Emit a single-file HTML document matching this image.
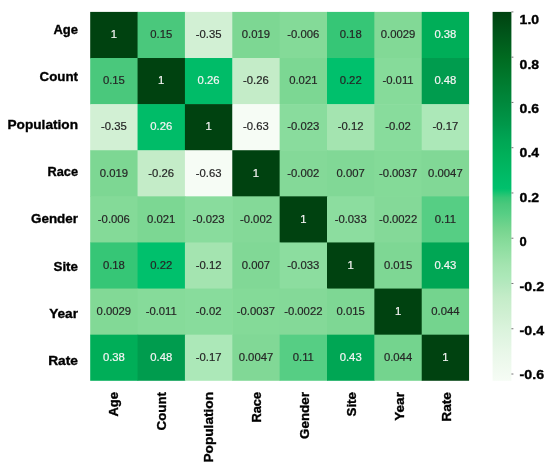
<!DOCTYPE html><html><head><meta charset="utf-8"><style>html,body{margin:0;padding:0;background:#fff;}svg{display:block;}</style></head><body>
<svg width="550" height="470" viewBox="0 0 550 470">
<rect width="550" height="470" fill="#fff"/>
<rect x="90.20" y="11.90" width="47.96" height="46.71" fill="#004210"/>
<rect x="137.56" y="11.90" width="47.96" height="46.71" fill="#4ac87c"/>
<rect x="184.92" y="11.90" width="47.96" height="46.71" fill="#d2f0d4"/>
<rect x="232.28" y="11.90" width="47.96" height="46.71" fill="#7dd793"/>
<rect x="279.64" y="11.90" width="47.96" height="46.71" fill="#84da98"/>
<rect x="327.00" y="11.90" width="47.96" height="46.71" fill="#36c676"/>
<rect x="374.36" y="11.90" width="47.96" height="46.71" fill="#82d996"/>
<rect x="421.72" y="11.90" width="47.36" height="46.71" fill="#00ae58"/>
<rect x="90.20" y="58.01" width="47.96" height="46.71" fill="#4ac87c"/>
<rect x="137.56" y="58.01" width="47.96" height="46.71" fill="#004210"/>
<rect x="184.92" y="58.01" width="47.96" height="46.71" fill="#00bc68"/>
<rect x="232.28" y="58.01" width="47.96" height="46.71" fill="#c4ecc8"/>
<rect x="279.64" y="58.01" width="47.96" height="46.71" fill="#7cd793"/>
<rect x="327.00" y="58.01" width="47.96" height="46.71" fill="#00c06c"/>
<rect x="374.36" y="58.01" width="47.96" height="46.71" fill="#86db9a"/>
<rect x="421.72" y="58.01" width="47.36" height="46.71" fill="#009c4e"/>
<rect x="90.20" y="104.12" width="47.96" height="46.71" fill="#d2f0d4"/>
<rect x="137.56" y="104.12" width="47.96" height="46.71" fill="#00bc68"/>
<rect x="184.92" y="104.12" width="47.96" height="46.71" fill="#004210"/>
<rect x="232.28" y="104.12" width="47.96" height="46.71" fill="#f6fcf5"/>
<rect x="279.64" y="104.12" width="47.96" height="46.71" fill="#89dc9d"/>
<rect x="327.00" y="104.12" width="47.96" height="46.71" fill="#a4e4b0"/>
<rect x="374.36" y="104.12" width="47.96" height="46.71" fill="#88dc9c"/>
<rect x="421.72" y="104.12" width="47.36" height="46.71" fill="#ace8b8"/>
<rect x="90.20" y="150.23" width="47.96" height="46.71" fill="#7dd793"/>
<rect x="137.56" y="150.23" width="47.96" height="46.71" fill="#c4ecc8"/>
<rect x="184.92" y="150.23" width="47.96" height="46.71" fill="#f6fcf5"/>
<rect x="232.28" y="150.23" width="47.96" height="46.71" fill="#004210"/>
<rect x="279.64" y="150.23" width="47.96" height="46.71" fill="#84d998"/>
<rect x="327.00" y="150.23" width="47.96" height="46.71" fill="#81d896"/>
<rect x="374.36" y="150.23" width="47.96" height="46.71" fill="#84da98"/>
<rect x="421.72" y="150.23" width="47.36" height="46.71" fill="#81d896"/>
<rect x="90.20" y="196.34" width="47.96" height="46.71" fill="#84da98"/>
<rect x="137.56" y="196.34" width="47.96" height="46.71" fill="#7cd793"/>
<rect x="184.92" y="196.34" width="47.96" height="46.71" fill="#89dc9d"/>
<rect x="232.28" y="196.34" width="47.96" height="46.71" fill="#84d998"/>
<rect x="279.64" y="196.34" width="47.96" height="46.71" fill="#004210"/>
<rect x="327.00" y="196.34" width="47.96" height="46.71" fill="#8cdd9f"/>
<rect x="374.36" y="196.34" width="47.96" height="46.71" fill="#84d998"/>
<rect x="421.72" y="196.34" width="47.36" height="46.71" fill="#56ce84"/>
<rect x="90.20" y="242.45" width="47.96" height="46.71" fill="#36c676"/>
<rect x="137.56" y="242.45" width="47.96" height="46.71" fill="#00c06c"/>
<rect x="184.92" y="242.45" width="47.96" height="46.71" fill="#a4e4b0"/>
<rect x="232.28" y="242.45" width="47.96" height="46.71" fill="#81d896"/>
<rect x="279.64" y="242.45" width="47.96" height="46.71" fill="#8cdd9f"/>
<rect x="327.00" y="242.45" width="47.96" height="46.71" fill="#004210"/>
<rect x="374.36" y="242.45" width="47.96" height="46.71" fill="#7ed794"/>
<rect x="421.72" y="242.45" width="47.36" height="46.71" fill="#00a654"/>
<rect x="90.20" y="288.56" width="47.96" height="46.71" fill="#82d996"/>
<rect x="137.56" y="288.56" width="47.96" height="46.71" fill="#86db9a"/>
<rect x="184.92" y="288.56" width="47.96" height="46.71" fill="#88dc9c"/>
<rect x="232.28" y="288.56" width="47.96" height="46.71" fill="#84da98"/>
<rect x="279.64" y="288.56" width="47.96" height="46.71" fill="#84d998"/>
<rect x="327.00" y="288.56" width="47.96" height="46.71" fill="#7ed794"/>
<rect x="374.36" y="288.56" width="47.96" height="46.71" fill="#004210"/>
<rect x="421.72" y="288.56" width="47.36" height="46.71" fill="#74d48e"/>
<rect x="90.20" y="334.67" width="47.96" height="46.11" fill="#00ae58"/>
<rect x="137.56" y="334.67" width="47.96" height="46.11" fill="#009c4e"/>
<rect x="184.92" y="334.67" width="47.96" height="46.11" fill="#ace8b8"/>
<rect x="232.28" y="334.67" width="47.96" height="46.11" fill="#81d896"/>
<rect x="279.64" y="334.67" width="47.96" height="46.11" fill="#56ce84"/>
<rect x="327.00" y="334.67" width="47.96" height="46.11" fill="#00a654"/>
<rect x="374.36" y="334.67" width="47.96" height="46.11" fill="#74d48e"/>
<rect x="421.72" y="334.67" width="47.36" height="46.11" fill="#004210"/>
<g font-family="Liberation Sans, Arial, sans-serif" font-size="11.3" text-anchor="middle">
<text x="113.88" y="38.25" fill="#f4f4f4" stroke="#f4f4f4" stroke-width="0.2">1</text>
<text x="161.24" y="38.25" fill="#262626" stroke="#262626" stroke-width="0.2">0.15</text>
<text x="208.60" y="38.25" fill="#262626" stroke="#262626" stroke-width="0.2">-0.35</text>
<text x="255.96" y="38.25" fill="#262626" stroke="#262626" stroke-width="0.2">0.019</text>
<text x="303.32" y="38.25" fill="#262626" stroke="#262626" stroke-width="0.2">-0.006</text>
<text x="350.68" y="38.25" fill="#262626" stroke="#262626" stroke-width="0.2">0.18</text>
<text x="398.04" y="38.25" fill="#262626" stroke="#262626" stroke-width="0.2">0.0029</text>
<text x="445.40" y="38.25" fill="#f4f4f4" stroke="#f4f4f4" stroke-width="0.2">0.38</text>
<text x="113.88" y="84.36" fill="#262626" stroke="#262626" stroke-width="0.2">0.15</text>
<text x="161.24" y="84.36" fill="#f4f4f4" stroke="#f4f4f4" stroke-width="0.2">1</text>
<text x="208.60" y="84.36" fill="#f4f4f4" stroke="#f4f4f4" stroke-width="0.2">0.26</text>
<text x="255.96" y="84.36" fill="#262626" stroke="#262626" stroke-width="0.2">-0.26</text>
<text x="303.32" y="84.36" fill="#262626" stroke="#262626" stroke-width="0.2">0.021</text>
<text x="350.68" y="84.36" fill="#262626" stroke="#262626" stroke-width="0.2">0.22</text>
<text x="398.04" y="84.36" fill="#262626" stroke="#262626" stroke-width="0.2">-0.011</text>
<text x="445.40" y="84.36" fill="#f4f4f4" stroke="#f4f4f4" stroke-width="0.2">0.48</text>
<text x="113.88" y="130.48" fill="#262626" stroke="#262626" stroke-width="0.2">-0.35</text>
<text x="161.24" y="130.48" fill="#f4f4f4" stroke="#f4f4f4" stroke-width="0.2">0.26</text>
<text x="208.60" y="130.48" fill="#f4f4f4" stroke="#f4f4f4" stroke-width="0.2">1</text>
<text x="255.96" y="130.48" fill="#262626" stroke="#262626" stroke-width="0.2">-0.63</text>
<text x="303.32" y="130.48" fill="#262626" stroke="#262626" stroke-width="0.2">-0.023</text>
<text x="350.68" y="130.48" fill="#262626" stroke="#262626" stroke-width="0.2">-0.12</text>
<text x="398.04" y="130.48" fill="#262626" stroke="#262626" stroke-width="0.2">-0.02</text>
<text x="445.40" y="130.48" fill="#262626" stroke="#262626" stroke-width="0.2">-0.17</text>
<text x="113.88" y="176.59" fill="#262626" stroke="#262626" stroke-width="0.2">0.019</text>
<text x="161.24" y="176.59" fill="#262626" stroke="#262626" stroke-width="0.2">-0.26</text>
<text x="208.60" y="176.59" fill="#262626" stroke="#262626" stroke-width="0.2">-0.63</text>
<text x="255.96" y="176.59" fill="#f4f4f4" stroke="#f4f4f4" stroke-width="0.2">1</text>
<text x="303.32" y="176.59" fill="#262626" stroke="#262626" stroke-width="0.2">-0.002</text>
<text x="350.68" y="176.59" fill="#262626" stroke="#262626" stroke-width="0.2">0.007</text>
<text x="398.04" y="176.59" fill="#262626" stroke="#262626" stroke-width="0.2">-0.0037</text>
<text x="445.40" y="176.59" fill="#262626" stroke="#262626" stroke-width="0.2">0.0047</text>
<text x="113.88" y="222.70" fill="#262626" stroke="#262626" stroke-width="0.2">-0.006</text>
<text x="161.24" y="222.70" fill="#262626" stroke="#262626" stroke-width="0.2">0.021</text>
<text x="208.60" y="222.70" fill="#262626" stroke="#262626" stroke-width="0.2">-0.023</text>
<text x="255.96" y="222.70" fill="#262626" stroke="#262626" stroke-width="0.2">-0.002</text>
<text x="303.32" y="222.70" fill="#f4f4f4" stroke="#f4f4f4" stroke-width="0.2">1</text>
<text x="350.68" y="222.70" fill="#262626" stroke="#262626" stroke-width="0.2">-0.033</text>
<text x="398.04" y="222.70" fill="#262626" stroke="#262626" stroke-width="0.2">-0.0022</text>
<text x="445.40" y="222.70" fill="#262626" stroke="#262626" stroke-width="0.2">0.11</text>
<text x="113.88" y="268.81" fill="#262626" stroke="#262626" stroke-width="0.2">0.18</text>
<text x="161.24" y="268.81" fill="#262626" stroke="#262626" stroke-width="0.2">0.22</text>
<text x="208.60" y="268.81" fill="#262626" stroke="#262626" stroke-width="0.2">-0.12</text>
<text x="255.96" y="268.81" fill="#262626" stroke="#262626" stroke-width="0.2">0.007</text>
<text x="303.32" y="268.81" fill="#262626" stroke="#262626" stroke-width="0.2">-0.033</text>
<text x="350.68" y="268.81" fill="#f4f4f4" stroke="#f4f4f4" stroke-width="0.2">1</text>
<text x="398.04" y="268.81" fill="#262626" stroke="#262626" stroke-width="0.2">0.015</text>
<text x="445.40" y="268.81" fill="#f4f4f4" stroke="#f4f4f4" stroke-width="0.2">0.43</text>
<text x="113.88" y="314.91" fill="#262626" stroke="#262626" stroke-width="0.2">0.0029</text>
<text x="161.24" y="314.91" fill="#262626" stroke="#262626" stroke-width="0.2">-0.011</text>
<text x="208.60" y="314.91" fill="#262626" stroke="#262626" stroke-width="0.2">-0.02</text>
<text x="255.96" y="314.91" fill="#262626" stroke="#262626" stroke-width="0.2">-0.0037</text>
<text x="303.32" y="314.91" fill="#262626" stroke="#262626" stroke-width="0.2">-0.0022</text>
<text x="350.68" y="314.91" fill="#262626" stroke="#262626" stroke-width="0.2">0.015</text>
<text x="398.04" y="314.91" fill="#f4f4f4" stroke="#f4f4f4" stroke-width="0.2">1</text>
<text x="445.40" y="314.91" fill="#262626" stroke="#262626" stroke-width="0.2">0.044</text>
<text x="113.88" y="361.02" fill="#f4f4f4" stroke="#f4f4f4" stroke-width="0.2">0.38</text>
<text x="161.24" y="361.02" fill="#f4f4f4" stroke="#f4f4f4" stroke-width="0.2">0.48</text>
<text x="208.60" y="361.02" fill="#262626" stroke="#262626" stroke-width="0.2">-0.17</text>
<text x="255.96" y="361.02" fill="#262626" stroke="#262626" stroke-width="0.2">0.0047</text>
<text x="303.32" y="361.02" fill="#262626" stroke="#262626" stroke-width="0.2">0.11</text>
<text x="350.68" y="361.02" fill="#f4f4f4" stroke="#f4f4f4" stroke-width="0.2">0.43</text>
<text x="398.04" y="361.02" fill="#262626" stroke="#262626" stroke-width="0.2">0.044</text>
<text x="445.40" y="361.02" fill="#f4f4f4" stroke="#f4f4f4" stroke-width="0.2">1</text>
</g>
<defs><linearGradient id="cb" x1="0" y1="0" x2="0" y2="1">
<stop offset="0.0000" stop-color="#004210"/>
<stop offset="0.0613" stop-color="#00561a"/>
<stop offset="0.1227" stop-color="#006a20"/>
<stop offset="0.1840" stop-color="#007a2e"/>
<stop offset="0.2454" stop-color="#00883c"/>
<stop offset="0.3067" stop-color="#00984a"/>
<stop offset="0.3190" stop-color="#009c4e"/>
<stop offset="0.3497" stop-color="#00a654"/>
<stop offset="0.3681" stop-color="#00aa56"/>
<stop offset="0.3804" stop-color="#00ae58"/>
<stop offset="0.4540" stop-color="#00bc68"/>
<stop offset="0.4785" stop-color="#00c06c"/>
<stop offset="0.4847" stop-color="#0ac26e"/>
<stop offset="0.5031" stop-color="#36c676"/>
<stop offset="0.5215" stop-color="#4ac87c"/>
<stop offset="0.5460" stop-color="#56ce84"/>
<stop offset="0.5865" stop-color="#74d48e"/>
<stop offset="0.6135" stop-color="#83d997"/>
<stop offset="0.6258" stop-color="#88dc9c"/>
<stop offset="0.6871" stop-color="#a4e4b0"/>
<stop offset="0.7178" stop-color="#ace8b8"/>
<stop offset="0.7362" stop-color="#b4e8be"/>
<stop offset="0.7730" stop-color="#c4ecc8"/>
<stop offset="0.8282" stop-color="#d2f0d4"/>
<stop offset="0.8589" stop-color="#daf3dc"/>
<stop offset="0.9202" stop-color="#e8f7e8"/>
<stop offset="1.0000" stop-color="#f6fcf5"/>
</linearGradient></defs>
<rect x="492.6" y="11.9" width="18.80" height="368.90" fill="url(#cb)"/>
<rect x="511.40" y="11.40" width="2" height="1" fill="#777"/>
<rect x="511.40" y="56.66" width="2" height="1" fill="#777"/>
<rect x="511.40" y="101.93" width="2" height="1" fill="#777"/>
<rect x="511.40" y="147.19" width="2" height="1" fill="#777"/>
<rect x="511.40" y="192.46" width="2" height="1" fill="#777"/>
<rect x="511.40" y="237.72" width="2" height="1" fill="#777"/>
<rect x="511.40" y="282.98" width="2" height="1" fill="#777"/>
<rect x="511.40" y="328.25" width="2" height="1" fill="#777"/>
<rect x="511.40" y="373.51" width="2" height="1" fill="#777"/>
<g font-family="Liberation Sans, Arial, sans-serif" font-weight="bold" font-size="13.6" fill="#000" stroke="#000" stroke-width="0.35">
<text x="519.6" y="24.10" textLength="19.50" lengthAdjust="spacingAndGlyphs">1.0</text>
<text x="519.6" y="68.50" textLength="19.50" lengthAdjust="spacingAndGlyphs">0.8</text>
<text x="519.6" y="112.90" textLength="19.50" lengthAdjust="spacingAndGlyphs">0.6</text>
<text x="519.6" y="157.30" textLength="19.50" lengthAdjust="spacingAndGlyphs">0.4</text>
<text x="519.6" y="201.70" textLength="19.50" lengthAdjust="spacingAndGlyphs">0.2</text>
<text x="519.6" y="246.10" textLength="7.20" lengthAdjust="spacingAndGlyphs">0</text>
<text x="519.6" y="290.50" textLength="24.50" lengthAdjust="spacingAndGlyphs">-0.2</text>
<text x="519.6" y="334.90" textLength="24.50" lengthAdjust="spacingAndGlyphs">-0.4</text>
<text x="519.6" y="379.30" textLength="24.50" lengthAdjust="spacingAndGlyphs">-0.6</text>
</g>
<g font-family="Liberation Sans, Arial, sans-serif" font-weight="bold" font-size="13.6" fill="#000" stroke="#000" stroke-width="0.35" text-anchor="end">
<text x="78" y="34.00" textLength="24.50" lengthAdjust="spacingAndGlyphs">Age</text>
<text x="78" y="81.34" textLength="38.50" lengthAdjust="spacingAndGlyphs">Count</text>
<text x="78" y="128.68" textLength="70.50" lengthAdjust="spacingAndGlyphs">Population</text>
<text x="78" y="176.02" textLength="30.50" lengthAdjust="spacingAndGlyphs">Race</text>
<text x="78" y="223.36" textLength="47.00" lengthAdjust="spacingAndGlyphs">Gender</text>
<text x="78" y="270.70" textLength="24.50" lengthAdjust="spacingAndGlyphs">Site</text>
<text x="78" y="318.04" textLength="28.80" lengthAdjust="spacingAndGlyphs">Year</text>
<text x="78" y="365.38" textLength="29.80" lengthAdjust="spacingAndGlyphs">Rate</text>
</g>
<g font-family="Liberation Sans, Arial, sans-serif" font-weight="bold" font-size="13.6" fill="#000" stroke="#000" stroke-width="0.35" text-anchor="end">
<text transform="translate(118.30,392.00) rotate(-90)" x="0" y="0" textLength="24.50" lengthAdjust="spacingAndGlyphs">Age</text>
<text transform="translate(165.85,392.00) rotate(-90)" x="0" y="0" textLength="38.50" lengthAdjust="spacingAndGlyphs">Count</text>
<text transform="translate(213.40,392.00) rotate(-90)" x="0" y="0" textLength="70.50" lengthAdjust="spacingAndGlyphs">Population</text>
<text transform="translate(260.95,392.00) rotate(-90)" x="0" y="0" textLength="30.50" lengthAdjust="spacingAndGlyphs">Race</text>
<text transform="translate(308.50,392.00) rotate(-90)" x="0" y="0" textLength="47.00" lengthAdjust="spacingAndGlyphs">Gender</text>
<text transform="translate(356.05,392.00) rotate(-90)" x="0" y="0" textLength="24.50" lengthAdjust="spacingAndGlyphs">Site</text>
<text transform="translate(403.60,392.00) rotate(-90)" x="0" y="0" textLength="28.80" lengthAdjust="spacingAndGlyphs">Year</text>
<text transform="translate(451.15,392.00) rotate(-90)" x="0" y="0" textLength="29.80" lengthAdjust="spacingAndGlyphs">Rate</text>
</g>
</svg></body></html>
